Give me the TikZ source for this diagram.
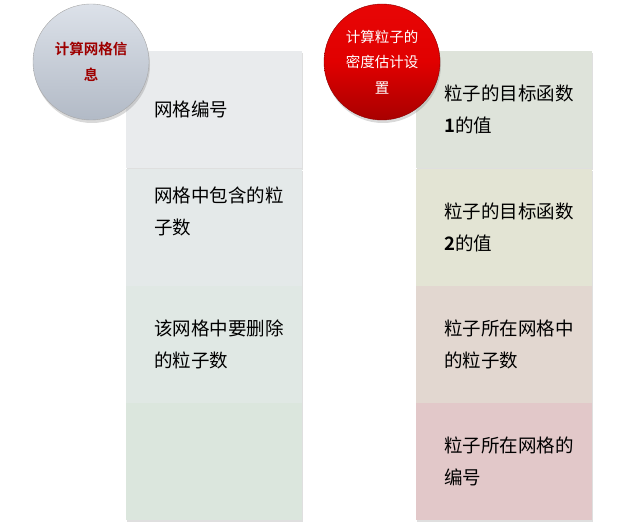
\documentclass[tikz,border=0pt]{standalone}
\usepackage{fontspec}
\setmainfont{Noto Sans CJK SC}[BoldFont={Noto Sans CJK SC Bold}]
\usepackage{tikz}
\usetikzlibrary{positioning,shadows}
\definecolor{gA}{HTML}{E9EBED}
\definecolor{gB}{HTML}{E4E9E9}
\definecolor{gC}{HTML}{E0E8E4}
\definecolor{gD}{HTML}{DBE6DD}
\definecolor{pA}{HTML}{DEE3DA}
\definecolor{pB}{HTML}{E3E4D4}
\definecolor{pC}{HTML}{E2D7D0}
\definecolor{pD}{HTML}{E2C8C9}
\definecolor{ballred}{HTML}{9E0000}
\definecolor{silverT}{HTML}{DCE1E9}
\definecolor{silverB}{HTML}{B2BAC6}
\definecolor{redT}{HTML}{E80606}
\definecolor{redB}{HTML}{A80000}
\tikzstyle{cell}   = [rectangle, minimum width=176pt, minimum height=117pt, inner sep=0pt, text width=120pt, align=left, font=\fontsize{18.5}{32}\selectfont, drop shadow={shadow xshift=1pt, shadow yshift=-2pt, opacity=.25}]
\tikzstyle{ball}   = [circle, minimum size=116pt, inner sep=0pt, align=center, drop shadow={shadow xshift=1pt, shadow yshift=-3pt, opacity=.3}]

\begin{document}
\begin{tikzpicture}[x=1pt,y=-1pt]
		\useasboundingbox (0,0) rectangle (624,524);

		% grid column
		\node[cell, fill=gA, anchor=north west] (grid1) at (126,51) {网格编号};
		\node[cell, fill=gB, below=0pt of grid1] (grid2) {网格中包含的粒\\子数\\\mbox{}};
		\node[cell, fill=gC, below=0pt of grid2] (grid3) {该网格中要删除\\的粒子数};
		\node[cell, fill=gD, below=0pt of grid3] (grid4) {};

		% particle column
		\node[cell, fill=pA, anchor=north west] (part1) at (416,51) {粒子的目标函数\\\textbf{1}的值};
		\node[cell, fill=pB, below=0pt of part1] (part2) {粒子的目标函数\\\textbf{2}的值};
		\node[cell, fill=pC, below=0pt of part2] (part3) {粒子所在网格中\\的粒子数};
		\node[cell, fill=pD, below=0pt of part3] (part4) {粒子所在网格的\\编号};

		% headers
		\node[ball, draw=gray!70, top color=silverT, bottom color=silverB, text=ballred, font=\bfseries\fontsize{14.5}{26}\selectfont] (gridball) at (91,62) {计算网格信\\息};
		\node[ball, draw=red!55!black, top color=redT, bottom color=redB, middle color=red!88!black, text=white, font=\fontsize{14.5}{25.5}\selectfont] (partball) at (382,62) {计算粒子的\\密度估计设\\置};
	\end{tikzpicture}
\end{document}
